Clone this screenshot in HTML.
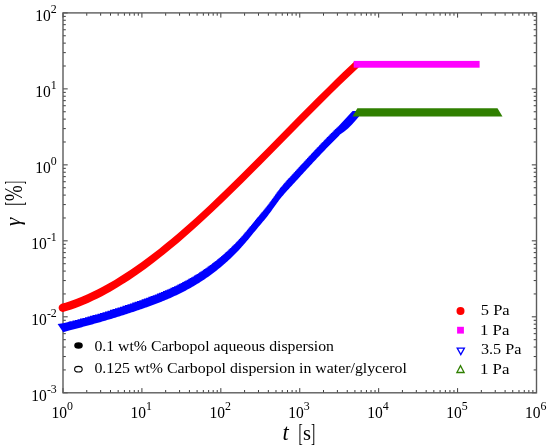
<!DOCTYPE html>
<html><head><meta charset="utf-8"><title>Creep strain</title>
<style>html,body{margin:0;padding:0;background:#fff;}svg{display:block;}</style>
</head><body>
<svg width="550" height="448" viewBox="0 0 550 448">
<rect width="550" height="448" fill="#fff"/>
<g fill="none" stroke="#3c3c3c">
<path d="M63.00 392.80 L63.00 388.10 M63.00 12.90 L63.00 17.60 M86.76 392.80 L86.76 390.00 M86.76 12.90 L86.76 15.70 M100.65 392.80 L100.65 390.00 M100.65 12.90 L100.65 15.70 M110.51 392.80 L110.51 390.00 M110.51 12.90 L110.51 15.70 M118.16 392.80 L118.16 390.00 M118.16 12.90 L118.16 15.70 M124.41 392.80 L124.41 390.00 M124.41 12.90 L124.41 15.70 M129.69 392.80 L129.69 390.00 M129.69 12.90 L129.69 15.70 M134.27 392.80 L134.27 390.00 M134.27 12.90 L134.27 15.70 M138.31 392.80 L138.31 390.00 M138.31 12.90 L138.31 15.70 M141.92 392.80 L141.92 388.10 M141.92 12.90 L141.92 17.60 M165.67 392.80 L165.67 390.00 M165.67 12.90 L165.67 15.70 M179.57 392.80 L179.57 390.00 M179.57 12.90 L179.57 15.70 M189.43 392.80 L189.43 390.00 M189.43 12.90 L189.43 15.70 M197.08 392.80 L197.08 390.00 M197.08 12.90 L197.08 15.70 M203.33 392.80 L203.33 390.00 M203.33 12.90 L203.33 15.70 M208.61 392.80 L208.61 390.00 M208.61 12.90 L208.61 15.70 M213.19 392.80 L213.19 390.00 M213.19 12.90 L213.19 15.70 M217.22 392.80 L217.22 390.00 M217.22 12.90 L217.22 15.70 M220.83 392.80 L220.83 388.10 M220.83 12.90 L220.83 17.60 M244.59 392.80 L244.59 390.00 M244.59 12.90 L244.59 15.70 M258.49 392.80 L258.49 390.00 M258.49 12.90 L258.49 15.70 M268.35 392.80 L268.35 390.00 M268.35 12.90 L268.35 15.70 M275.99 392.80 L275.99 390.00 M275.99 12.90 L275.99 15.70 M282.24 392.80 L282.24 390.00 M282.24 12.90 L282.24 15.70 M287.53 392.80 L287.53 390.00 M287.53 12.90 L287.53 15.70 M292.10 392.80 L292.10 390.00 M292.10 12.90 L292.10 15.70 M296.14 392.80 L296.14 390.00 M296.14 12.90 L296.14 15.70 M299.75 392.80 L299.75 388.10 M299.75 12.90 L299.75 17.60 M323.51 392.80 L323.51 390.00 M323.51 12.90 L323.51 15.70 M337.40 392.80 L337.40 390.00 M337.40 12.90 L337.40 15.70 M347.26 392.80 L347.26 390.00 M347.26 12.90 L347.26 15.70 M354.91 392.80 L354.91 390.00 M354.91 12.90 L354.91 15.70 M361.16 392.80 L361.16 390.00 M361.16 12.90 L361.16 15.70 M366.44 392.80 L366.44 390.00 M366.44 12.90 L366.44 15.70 M371.02 392.80 L371.02 390.00 M371.02 12.90 L371.02 15.70 M375.06 392.80 L375.06 390.00 M375.06 12.90 L375.06 15.70 M378.67 392.80 L378.67 388.10 M378.67 12.90 L378.67 17.60 M402.42 392.80 L402.42 390.00 M402.42 12.90 L402.42 15.70 M416.32 392.80 L416.32 390.00 M416.32 12.90 L416.32 15.70 M426.18 392.80 L426.18 390.00 M426.18 12.90 L426.18 15.70 M433.83 392.80 L433.83 390.00 M433.83 12.90 L433.83 15.70 M440.08 392.80 L440.08 390.00 M440.08 12.90 L440.08 15.70 M445.36 392.80 L445.36 390.00 M445.36 12.90 L445.36 15.70 M449.94 392.80 L449.94 390.00 M449.94 12.90 L449.94 15.70 M453.97 392.80 L453.97 390.00 M453.97 12.90 L453.97 15.70 M457.58 392.80 L457.58 388.10 M457.58 12.90 L457.58 17.60 M481.34 392.80 L481.34 390.00 M481.34 12.90 L481.34 15.70 M495.24 392.80 L495.24 390.00 M495.24 12.90 L495.24 15.70 M505.10 392.80 L505.10 390.00 M505.10 12.90 L505.10 15.70 M512.74 392.80 L512.74 390.00 M512.74 12.90 L512.74 15.70 M518.99 392.80 L518.99 390.00 M518.99 12.90 L518.99 15.70 M524.28 392.80 L524.28 390.00 M524.28 12.90 L524.28 15.70 M528.85 392.80 L528.85 390.00 M528.85 12.90 L528.85 15.70 M532.89 392.80 L532.89 390.00 M532.89 12.90 L532.89 15.70 M536.50 392.80 L536.50 388.10 M536.50 12.90 L536.50 17.60 M63.00 392.80 L67.70 392.80 M536.50 392.80 L531.80 392.80 M63.00 369.93 L65.80 369.93 M536.50 369.93 L533.70 369.93 M63.00 356.55 L65.80 356.55 M536.50 356.55 L533.70 356.55 M63.00 347.06 L65.80 347.06 M536.50 347.06 L533.70 347.06 M63.00 339.69 L65.80 339.69 M536.50 339.69 L533.70 339.69 M63.00 333.68 L65.80 333.68 M536.50 333.68 L533.70 333.68 M63.00 328.59 L65.80 328.59 M536.50 328.59 L533.70 328.59 M63.00 324.18 L65.80 324.18 M536.50 324.18 L533.70 324.18 M63.00 320.30 L65.80 320.30 M536.50 320.30 L533.70 320.30 M63.00 316.82 L67.70 316.82 M536.50 316.82 L531.80 316.82 M63.00 293.95 L65.80 293.95 M536.50 293.95 L533.70 293.95 M63.00 280.57 L65.80 280.57 M536.50 280.57 L533.70 280.57 M63.00 271.08 L65.80 271.08 M536.50 271.08 L533.70 271.08 M63.00 263.71 L65.80 263.71 M536.50 263.71 L533.70 263.71 M63.00 257.70 L65.80 257.70 M536.50 257.70 L533.70 257.70 M63.00 252.61 L65.80 252.61 M536.50 252.61 L533.70 252.61 M63.00 248.20 L65.80 248.20 M536.50 248.20 L533.70 248.20 M63.00 244.32 L65.80 244.32 M536.50 244.32 L533.70 244.32 M63.00 240.84 L67.70 240.84 M536.50 240.84 L531.80 240.84 M63.00 217.97 L65.80 217.97 M536.50 217.97 L533.70 217.97 M63.00 204.59 L65.80 204.59 M536.50 204.59 L533.70 204.59 M63.00 195.10 L65.80 195.10 M536.50 195.10 L533.70 195.10 M63.00 187.73 L65.80 187.73 M536.50 187.73 L533.70 187.73 M63.00 181.72 L65.80 181.72 M536.50 181.72 L533.70 181.72 M63.00 176.63 L65.80 176.63 M536.50 176.63 L533.70 176.63 M63.00 172.22 L65.80 172.22 M536.50 172.22 L533.70 172.22 M63.00 168.34 L65.80 168.34 M536.50 168.34 L533.70 168.34 M63.00 164.86 L67.70 164.86 M536.50 164.86 L531.80 164.86 M63.00 141.99 L65.80 141.99 M536.50 141.99 L533.70 141.99 M63.00 128.61 L65.80 128.61 M536.50 128.61 L533.70 128.61 M63.00 119.12 L65.80 119.12 M536.50 119.12 L533.70 119.12 M63.00 111.75 L65.80 111.75 M536.50 111.75 L533.70 111.75 M63.00 105.74 L65.80 105.74 M536.50 105.74 L533.70 105.74 M63.00 100.65 L65.80 100.65 M536.50 100.65 L533.70 100.65 M63.00 96.24 L65.80 96.24 M536.50 96.24 L533.70 96.24 M63.00 92.36 L65.80 92.36 M536.50 92.36 L533.70 92.36 M63.00 88.88 L67.70 88.88 M536.50 88.88 L531.80 88.88 M63.00 66.01 L65.80 66.01 M536.50 66.01 L533.70 66.01 M63.00 52.63 L65.80 52.63 M536.50 52.63 L533.70 52.63 M63.00 43.14 L65.80 43.14 M536.50 43.14 L533.70 43.14 M63.00 35.77 L65.80 35.77 M536.50 35.77 L533.70 35.77 M63.00 29.76 L65.80 29.76 M536.50 29.76 L533.70 29.76 M63.00 24.67 L65.80 24.67 M536.50 24.67 L533.70 24.67 M63.00 20.26 L65.80 20.26 M536.50 20.26 L533.70 20.26 M63.00 16.38 L65.80 16.38 M536.50 16.38 L533.70 16.38 M63.00 12.90 L67.70 12.90 M536.50 12.90 L531.80 12.90" stroke-width="1"/>
<rect x="63.00" y="12.90" width="473.50" height="379.90" stroke-width="1.4" stroke="#5c5c5c"/>
</g>
<path d="M87.49 294.19 L81.11 296.94 L74.74 299.43 L69.10 301.43 L65.43 302.63 L61.46 303.82 L60.72 304.15 L60.06 304.63 L59.50 305.22 L59.07 305.92 L58.78 306.68 L58.65 307.48 L58.68 308.30 L58.86 309.09 L59.20 309.83 L59.50 310.29 L59.86 310.70 L60.27 311.05 L60.72 311.36 L61.21 311.60 L61.72 311.77 L62.53 311.90 L63.07 311.90 L63.88 311.77 L65.38 311.33 L71.38 309.41 L75.63 307.91 L80.13 306.20 L84.37 304.47 L88.62 302.64 L93.10 300.58 L97.59 298.41 L102.09 296.13 L106.56 293.74 L110.30 291.66 L114.04 289.51 L117.78 287.29 L121.74 284.86 L125.48 282.50 L129.47 279.91 L133.46 277.24 L137.45 274.50 L145.64 268.66 L153.87 262.51 L162.10 256.10 L170.77 249.07 L178.75 242.38 L186.98 235.27 L195.46 227.74 L204.20 219.78 L213.35 211.24 L222.84 202.22 L232.83 192.54 L243.31 182.20 L261.05 164.45 L301.69 123.25 L320.68 104.20 L330.91 94.08 L340.66 84.59 L349.90 75.74 L358.37 67.79 L358.82 67.24 L359.16 66.61 L359.36 65.93 L359.43 65.22 L359.36 64.51 L359.24 64.05 L358.95 63.40 L358.53 62.83 L358.20 62.49 L357.82 62.20 L357.41 61.96 L356.97 61.78 L356.27 61.62 L355.80 61.59 L355.33 61.62 L354.86 61.71 L354.19 61.96 L353.59 62.34 L350.49 65.23 L342.75 72.60 L334.76 80.31 L326.52 88.38 L317.53 97.29 L299.80 115.11 L267.91 147.47 L254.42 161.10 L240.68 174.81 L228.45 186.83 L221.45 193.61 L214.71 200.05 L208.21 206.18 L201.72 212.20 L195.47 217.91 L189.24 223.49 L183.27 228.75 L177.54 233.69 L171.30 238.95 L165.06 244.08 L159.08 248.88 L153.12 253.53 L147.16 258.03 L141.44 262.23 L135.71 266.29 L130.26 270.02 L124.81 273.61 L119.35 277.07 L113.90 280.38 L108.47 283.52 L103.03 286.52 L97.84 289.23 L92.67 291.78 Z " fill="#ff0000"/>
<rect x="353.70" y="60.90" width="125.90" height="6.80" fill="#ff00ff"/>
<path d="M57.60 323.90 L63.00 323.20 L67.40 322.30 L70.00 321.20 L72.50 321.20 L72.50 320.56 L75.00 320.56 L75.00 319.90 L77.50 319.90 L77.50 319.24 L80.00 319.24 L80.00 318.57 L82.50 318.57 L82.50 317.90 L85.00 317.90 L85.00 317.21 L87.50 317.21 L87.50 316.51 L90.00 316.51 L90.00 315.81 L92.50 315.81 L92.50 315.10 L95.00 315.10 L95.00 314.38 L97.50 314.38 L97.50 313.65 L100.00 313.65 L100.00 312.91 L102.50 312.91 L102.50 312.16 L105.00 312.16 L105.00 311.41 L107.50 311.41 L107.50 310.64 L110.00 310.64 L110.00 309.87 L112.50 309.87 L112.50 309.09 L115.00 309.09 L115.00 308.29 L117.50 308.29 L117.50 307.49 L120.00 307.49 L120.00 306.68 L122.50 306.68 L122.50 305.87 L124.98 305.87 L124.98 305.05 L127.43 305.05 L127.43 304.23 L129.86 304.23 L129.86 303.41 L132.25 303.41 L132.25 302.59 L134.63 302.59 L134.63 301.77 L136.98 301.77 L136.98 300.96 L139.30 300.96 L139.30 300.14 L141.60 300.14 L141.60 299.32 L143.88 299.32 L143.88 298.50 L146.12 298.50 L146.12 297.68 L148.34 297.68 L148.34 296.86 L150.53 296.86 L150.53 296.04 L152.69 296.04 L152.69 295.22 L154.80 295.22 L154.80 294.40 L156.89 294.40 L156.89 293.58 L158.93 293.58 L158.93 292.76 L160.94 292.76 L160.94 291.94 L162.92 291.94 L162.92 291.12 L164.85 291.12 L164.85 290.30 L166.75 290.30 L166.75 289.48 L168.61 289.48 L168.61 288.66 L170.43 288.66 L170.43 287.84 L172.22 287.84 L172.22 287.02 L173.97 287.02 L173.97 286.20 L175.69 286.20 L175.69 285.38 L177.37 285.38 L177.37 284.56 L179.02 284.56 L179.02 283.74 L180.64 283.74 L180.64 282.92 L182.23 282.92 L182.23 282.10 L183.78 282.10 L183.78 281.29 L185.31 281.29 L185.31 280.47 L186.81 280.47 L186.81 279.65 L188.28 279.65 L188.28 278.84 L189.73 278.84 L189.73 278.02 L191.15 278.02 L191.15 277.20 L192.54 277.20 L192.54 276.39 L193.91 276.39 L193.91 275.57 L195.26 275.57 L195.26 274.76 L196.58 274.76 L196.58 273.94 L197.88 273.94 L197.88 273.13 L199.16 273.13 L199.16 272.31 L200.42 272.31 L200.42 271.50 L201.65 271.50 L201.65 270.68 L202.87 270.68 L202.87 269.87 L204.07 269.87 L204.07 269.06 L205.25 269.06 L205.25 268.24 L206.42 268.24 L206.42 267.43 L207.56 267.43 L207.56 266.62 L208.69 266.62 L208.69 265.81 L209.81 265.81 L209.81 265.00 L210.91 265.00 L210.91 264.18 L211.99 264.18 L211.99 263.37 L213.06 263.37 L213.06 262.56 L214.11 262.56 L214.11 261.75 L215.15 261.75 L215.15 260.94 L216.17 260.94 L216.17 260.13 L217.18 260.13 L217.18 259.32 L218.18 259.32 L218.18 258.51 L219.17 258.51 L219.17 257.70 L220.14 257.70 L220.14 256.89 L221.11 256.89 L221.11 256.08 L222.06 256.08 L222.06 255.27 L223.00 255.27 L223.00 254.46 L223.92 254.46 L223.92 253.65 L224.84 253.65 L224.84 252.84 L225.75 252.84 L225.75 252.03 L226.64 252.03 L226.64 251.22 L227.53 251.22 L227.53 250.41 L228.40 250.41 L228.40 249.60 L229.26 249.60 L229.26 248.79 L230.12 248.79 L230.12 247.99 L230.96 247.99 L230.96 247.18 L231.80 247.18 L231.80 246.37 L232.62 246.37 L232.62 245.56 L233.44 245.56 L233.44 244.75 L234.24 244.75 L234.24 243.94 L235.04 243.94 L235.04 243.13 L235.84 243.13 L235.84 242.31 L236.64 242.31 L236.64 241.47 L237.44 241.47 L237.44 240.63 L238.24 240.63 L238.24 239.78 L239.04 239.78 L239.04 238.92 L239.84 238.92 L239.84 238.05 L240.64 238.05 L240.64 237.17 L241.44 237.17 L241.44 236.28 L242.24 236.28 L242.24 235.38 L243.04 235.38 L243.04 234.47 L243.84 234.47 L243.84 233.55 L244.64 233.55 L244.64 232.62 L245.44 232.62 L245.44 231.68 L246.24 231.68 L246.24 230.73 L247.04 230.73 L247.04 229.78 L247.84 229.78 L247.84 228.81 L248.64 228.81 L248.64 227.84 L249.44 227.84 L249.44 226.87 L250.24 226.87 L250.24 225.89 L251.04 225.89 L251.04 224.91 L251.84 224.91 L251.84 223.92 L252.64 223.92 L252.64 222.94 L253.44 222.94 L253.44 221.96 L254.24 221.96 L254.24 220.98 L255.04 220.98 L255.04 220.00 L255.84 220.00 L255.84 219.03 L256.64 219.03 L256.64 218.06 L257.44 218.06 L257.44 217.10 L258.24 217.10 L258.24 216.15 L259.04 216.15 L259.04 215.20 L259.84 215.20 L259.84 214.26 L260.64 214.26 L260.64 213.31 L261.44 213.31 L261.44 212.37 L262.24 212.37 L262.24 211.42 L263.04 211.42 L263.04 210.47 L263.84 210.47 L263.84 209.50 L264.64 209.50 L264.64 208.53 L265.44 208.53 L265.44 207.54 L266.24 207.54 L266.24 206.54 L267.04 206.54 L267.04 205.52 L267.84 205.52 L267.84 204.48 L268.64 204.48 L268.64 203.42 L269.44 203.42 L269.44 202.34 L270.24 202.34 L270.24 201.24 L271.04 201.24 L271.04 200.14 L271.84 200.14 L271.84 199.03 L272.64 199.03 L272.64 197.91 L273.44 197.91 L273.44 196.78 L274.24 196.78 L274.24 195.66 L275.04 195.66 L275.04 194.55 L275.84 194.55 L275.84 193.44 L276.64 193.44 L276.64 192.34 L277.44 192.34 L277.44 191.26 L278.24 191.26 L278.24 190.19 L279.04 190.19 L279.04 189.14 L279.84 189.14 L279.84 188.11 L280.64 188.11 L280.64 187.11 L281.44 187.11 L281.44 186.13 L282.24 186.13 L282.24 185.18 L283.04 185.18 L283.04 184.24 L283.84 184.24 L283.84 183.31 L284.64 183.31 L284.64 182.40 L285.44 182.40 L285.44 181.51 L286.24 181.51 L286.24 180.62 L287.04 180.62 L287.04 179.74 L287.84 179.74 L287.84 178.87 L288.64 178.87 L288.64 178.00 L289.44 178.00 L289.44 177.13 L290.24 177.13 L290.24 176.27 L291.04 176.27 L291.04 175.40 L291.84 175.40 L291.84 174.53 L292.64 174.53 L292.64 173.67 L293.44 173.67 L293.44 172.80 L294.24 172.80 L294.24 171.93 L295.04 171.93 L295.04 171.06 L295.84 171.06 L295.84 170.19 L296.64 170.19 L296.64 169.32 L297.44 169.32 L297.44 168.46 L298.24 168.46 L298.24 167.59 L299.04 167.59 L299.04 166.72 L299.84 166.72 L299.84 165.85 L300.64 165.85 L300.64 164.98 L301.44 164.98 L301.44 164.12 L302.24 164.12 L302.24 163.25 L303.04 163.25 L303.04 162.38 L303.84 162.38 L303.84 161.52 L304.64 161.52 L304.64 160.65 L305.44 160.65 L305.44 159.79 L306.24 159.79 L306.24 158.93 L307.04 158.93 L307.04 158.07 L307.84 158.07 L307.84 157.20 L308.64 157.20 L308.64 156.34 L309.44 156.34 L309.44 155.49 L310.24 155.49 L310.24 154.63 L311.04 154.63 L311.04 153.77 L311.84 153.77 L311.84 152.92 L312.64 152.92 L312.64 152.06 L313.44 152.06 L313.44 151.21 L314.24 151.21 L314.24 150.36 L315.04 150.36 L315.04 149.51 L315.84 149.51 L315.84 148.66 L316.64 148.66 L316.64 147.82 L317.44 147.82 L317.44 146.97 L318.24 146.97 L318.24 146.13 L319.04 146.13 L319.04 145.29 L319.84 145.29 L319.84 144.45 L320.64 144.45 L320.64 143.62 L321.44 143.62 L321.44 142.79 L322.24 142.79 L322.24 141.95 L323.04 141.95 L323.04 141.13 L323.84 141.13 L323.84 140.30 L324.64 140.30 L324.64 139.48 L325.44 139.48 L325.44 138.65 L326.24 138.65 L326.24 137.84 L327.04 137.84 L327.04 137.02 L327.84 137.02 L327.84 136.21 L328.64 136.21 L328.64 135.40 L329.44 135.40 L329.44 134.59 L330.24 134.59 L330.24 133.78 L331.04 133.78 L331.04 132.98 L331.84 132.98 L331.84 132.18 L332.64 132.18 L332.64 131.39 L333.44 131.39 L333.44 130.59 L334.24 130.59 L334.24 129.80 L335.05 129.80 L335.05 129.01 L335.86 129.01 L335.86 128.22 L336.67 128.22 L336.67 127.43 L337.48 127.43 L337.48 126.78 L338.00 126.78 L352.60 111.00 L360.00 111.00 L359.00 116.60 L356.00 120.00 L352.00 124.60 L348.00 128.60 L344.00 131.70 L340.00 134.60 L339.00 135.71 L338.00 136.69 L337.00 137.68 L336.00 138.67 L335.00 139.66 L334.00 140.67 L333.00 141.67 L332.00 142.68 L331.00 143.70 L330.00 144.72 L329.00 145.74 L328.00 146.77 L327.00 147.80 L326.00 148.84 L325.00 149.88 L324.00 150.92 L323.00 151.97 L322.00 153.02 L321.00 154.07 L320.00 155.13 L319.00 156.19 L318.00 157.25 L317.00 158.32 L316.00 159.39 L315.00 160.46 L314.00 161.53 L313.00 162.60 L312.00 163.68 L311.00 164.76 L310.00 165.84 L309.00 166.92 L308.00 168.01 L307.00 169.09 L306.00 170.18 L305.00 171.26 L304.00 172.35 L303.00 173.44 L302.00 174.53 L301.00 175.62 L300.00 176.71 L299.00 177.80 L298.00 178.89 L297.00 179.98 L296.00 181.07 L295.00 182.16 L294.00 183.25 L293.00 184.34 L292.00 185.43 L291.00 186.51 L290.00 187.60 L289.00 188.69 L288.00 189.77 L287.00 190.87 L286.00 191.98 L285.00 193.10 L284.00 194.24 L283.00 195.40 L282.00 196.59 L281.00 197.82 L280.00 199.07 L279.00 200.37 L278.00 201.69 L277.00 203.05 L276.00 204.42 L275.00 205.81 L274.00 207.21 L273.00 208.61 L272.00 210.01 L271.00 211.39 L270.00 212.76 L269.00 214.11 L268.00 215.43 L267.00 216.72 L266.00 217.98 L265.00 219.21 L264.00 220.42 L263.00 221.61 L262.00 222.80 L261.00 223.97 L260.00 225.15 L259.00 226.33 L258.00 227.51 L257.00 228.71 L256.00 229.91 L255.00 231.13 L254.00 232.35 L253.00 233.57 L252.00 234.79 L251.00 236.01 L250.00 237.23 L249.00 238.44 L248.00 239.65 L247.00 240.84 L246.00 242.03 L245.00 243.20 L244.00 244.35 L243.00 245.48 L242.00 246.61 L241.00 247.71 L240.00 248.80 L239.00 249.88 L238.00 250.93 L237.00 251.98 L236.00 253.01 L235.00 254.03 L234.00 255.03 L233.00 256.02 L232.00 256.99 L231.00 257.95 L230.00 258.90 L229.00 259.84 L228.00 260.76 L227.00 261.67 L226.00 262.57 L225.00 263.45 L224.00 264.33 L223.00 265.19 L222.00 266.04 L221.00 266.88 L220.00 267.71 L219.00 268.53 L218.00 269.34 L217.00 270.14 L216.00 270.93 L215.00 271.71 L214.00 272.47 L213.00 273.23 L212.00 273.98 L211.00 274.72 L210.00 275.45 L209.00 276.17 L208.00 276.88 L207.00 277.58 L206.00 278.28 L205.00 278.96 L204.00 279.64 L203.00 280.30 L202.00 280.96 L201.00 281.61 L200.00 282.25 L199.00 282.88 L198.00 283.51 L197.00 284.12 L196.00 284.73 L195.00 285.33 L194.00 285.92 L193.00 286.51 L192.00 287.09 L191.00 287.66 L190.00 288.22 L189.00 288.77 L188.00 289.32 L187.00 289.86 L186.00 290.40 L185.00 290.93 L184.00 291.45 L183.00 291.97 L182.00 292.47 L181.00 292.98 L180.00 293.47 L179.00 293.96 L178.00 294.45 L177.00 294.93 L176.00 295.40 L175.00 295.87 L174.00 296.33 L173.00 296.79 L172.00 297.24 L171.00 297.68 L170.00 298.13 L169.00 298.56 L168.00 298.99 L167.00 299.42 L166.00 299.84 L165.00 300.26 L164.00 300.67 L163.00 301.08 L162.00 301.49 L161.00 301.89 L160.00 302.29 L159.00 302.68 L158.00 303.07 L157.00 303.46 L156.00 303.84 L155.00 304.22 L154.00 304.60 L153.00 304.97 L152.00 305.34 L151.00 305.71 L150.00 306.07 L149.00 306.44 L148.00 306.80 L147.00 307.15 L146.00 307.51 L145.00 307.86 L144.00 308.21 L143.00 308.56 L142.00 308.91 L141.00 309.25 L140.00 309.60 L139.00 309.94 L138.00 310.28 L137.00 310.62 L136.00 310.96 L135.00 311.29 L134.00 311.63 L133.00 311.96 L132.00 312.29 L131.00 312.62 L130.00 312.95 L129.00 313.28 L128.00 313.60 L127.00 313.93 L126.00 314.25 L125.00 314.57 L124.00 314.89 L123.00 315.21 L122.00 315.53 L121.00 315.84 L120.00 316.16 L119.00 316.47 L118.00 316.78 L117.00 317.09 L116.00 317.40 L115.00 317.71 L114.00 318.02 L113.00 318.32 L112.00 318.63 L111.00 318.93 L110.00 319.23 L109.00 319.53 L108.00 319.83 L107.00 320.12 L106.00 320.42 L105.00 320.71 L104.00 321.01 L103.00 321.30 L102.00 321.59 L101.00 321.88 L100.00 322.17 L99.00 322.45 L98.00 322.74 L97.00 323.02 L96.00 323.31 L95.00 323.59 L94.00 323.87 L93.00 324.15 L92.00 324.43 L91.00 324.70 L90.00 324.98 L89.00 325.25 L88.00 325.53 L87.00 325.80 L86.00 326.07 L85.00 326.34 L84.00 326.61 L83.00 326.87 L82.00 327.14 L81.00 327.41 L80.00 327.67 L79.00 327.93 L78.00 328.19 L77.00 328.46 L76.00 328.72 L75.00 328.97 L74.00 329.23 L73.00 329.49 L72.00 329.74 L71.00 330.00 L70.00 330.25 L67.40 330.90 L63.20 332.30 Z" fill="#0000ff"/>
<path d="M352.40 116.50 L357.40 108.30 L497.50 108.30 L502.50 116.50 Z" fill="#2f7f00"/>
<g font-family="'Liberation Serif', 'DejaVu Serif', serif" fill="#000">
<text transform="translate(62.30 418.00) scale(0.96 1)" text-anchor="middle" font-size="16.2">10<tspan font-size="12.4" dy="-8.2">0</tspan></text>
<text transform="translate(141.22 418.00) scale(0.96 1)" text-anchor="middle" font-size="16.2">10<tspan font-size="12.4" dy="-8.2">1</tspan></text>
<text transform="translate(220.13 418.00) scale(0.96 1)" text-anchor="middle" font-size="16.2">10<tspan font-size="12.4" dy="-8.2">2</tspan></text>
<text transform="translate(299.05 418.00) scale(0.96 1)" text-anchor="middle" font-size="16.2">10<tspan font-size="12.4" dy="-8.2">3</tspan></text>
<text transform="translate(377.97 418.00) scale(0.96 1)" text-anchor="middle" font-size="16.2">10<tspan font-size="12.4" dy="-8.2">4</tspan></text>
<text transform="translate(456.88 418.00) scale(0.96 1)" text-anchor="middle" font-size="16.2">10<tspan font-size="12.4" dy="-8.2">5</tspan></text>
<text transform="translate(535.80 418.00) scale(0.96 1)" text-anchor="middle" font-size="16.2">10<tspan font-size="12.4" dy="-8.2">6</tspan></text>
<text transform="translate(56.80 400.90) scale(0.96 1)" text-anchor="end" font-size="16.2">10<tspan font-size="12.4" dy="-8.2">-3</tspan></text>
<text transform="translate(56.80 324.92) scale(0.96 1)" text-anchor="end" font-size="16.2">10<tspan font-size="12.4" dy="-8.2">-2</tspan></text>
<text transform="translate(56.80 248.94) scale(0.96 1)" text-anchor="end" font-size="16.2">10<tspan font-size="12.4" dy="-8.2">-1</tspan></text>
<text transform="translate(56.80 172.96) scale(0.96 1)" text-anchor="end" font-size="16.2">10<tspan font-size="12.4" dy="-8.2">0</tspan></text>
<text transform="translate(56.80 96.98) scale(0.96 1)" text-anchor="end" font-size="16.2">10<tspan font-size="12.4" dy="-8.2">1</tspan></text>
<text transform="translate(56.80 21.00) scale(0.96 1)" text-anchor="end" font-size="16.2">10<tspan font-size="12.4" dy="-8.2">2</tspan></text>
<text x="282.6" y="440.3" font-size="22.5" font-style="italic">t</text>
<text x="298.6" y="440.8" font-size="24.5" textLength="4.2" lengthAdjust="spacingAndGlyphs">[</text>
<text x="302.9" y="440.3" font-size="20.5">s</text>
<text x="310.9" y="440.8" font-size="24.5" textLength="4.2" lengthAdjust="spacingAndGlyphs">]</text>
<text transform="translate(20.30 0) rotate(-90)" x="-225.90" y="0" font-size="21.0" font-style="italic">γ</text>
<text transform="translate(21.60 0) rotate(-90)" x="-205.40" y="0" font-size="24.5" textLength="3.6" lengthAdjust="spacingAndGlyphs">[</text>
<text transform="translate(21.60 0) rotate(-90)" x="-201.30" y="0" font-size="24.5" textLength="16" lengthAdjust="spacingAndGlyphs">%</text>
<text transform="translate(21.60 0) rotate(-90)" x="-184.60" y="0" font-size="24.5" textLength="3.6" lengthAdjust="spacingAndGlyphs">]</text>
<text x="94.4" y="350.7" font-size="13.6" textLength="239.6" lengthAdjust="spacingAndGlyphs">0.1 wt% Carbopol aqueous dispersion</text>
<text x="94.4" y="373.3" font-size="13.6" textLength="312.4" lengthAdjust="spacingAndGlyphs">0.125 wt% Carbopol dispersion in water/glycerol</text>
<text x="480.8" y="314.5" font-size="13.6" textLength="28.8" lengthAdjust="spacingAndGlyphs">5 Pa</text>
<text x="479.9" y="334.5" font-size="13.6" textLength="29.5" lengthAdjust="spacingAndGlyphs">1 Pa</text>
<text x="481.0" y="354.1" font-size="13.6" textLength="40.4" lengthAdjust="spacingAndGlyphs">3.5 Pa</text>
<text x="479.9" y="373.6" font-size="13.6" textLength="29.5" lengthAdjust="spacingAndGlyphs">1 Pa</text>
</g>
<ellipse cx="78.5" cy="345.5" rx="4.25" ry="3.2" fill="#000"/>
<ellipse cx="78.4" cy="369.2" rx="3.8" ry="2.8" fill="none" stroke="#000" stroke-width="1.1"/>
<circle cx="460.5" cy="311" r="4" fill="#ff0000"/>
<rect x="457.1" y="326.8" width="6.8" height="6.8" fill="#ff00ff"/>
<path d="M457.2 348.1 L464.4 348.1 L460.8 354.6 Z" fill="none" stroke="#0000ff" stroke-width="1.3" stroke-linejoin="miter"/>
<path d="M456.9 372.5 L464.1 372.5 L460.5 365.6 Z" fill="none" stroke="#2f7f00" stroke-width="1.3"/>
</svg>
</body></html>
